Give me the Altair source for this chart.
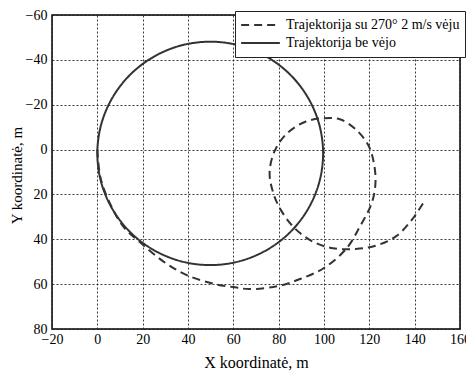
import altair as alt
import pandas as pd

# Solid trajectory (no wind)
solid_x = [0, 1.7, 6.7, 14.6, 24.9, 36.9, 49.8, 62.7, 74.7, 85.0, 92.9, 97.9, 99.6,
           97.9, 92.9, 85.0, 74.7, 62.7, 49.8, 36.9, 24.9, 14.6, 6.7, 1.7]
solid_y = [1.7, 14.6, 26.6, 36.9, 44.8, 49.8, 51.5, 49.8, 44.8, 36.9, 26.6, 14.6, 1.7,
           -11.2, -23.2, -33.5, -41.4, -46.4, -48.1, -46.4, -41.4, -33.5, -23.2, -11.2]

# Dashed trajectory (270°, 2 m/s wind)
dash_x = [0, 1.5, 6.5, 12, 19.6, 30, 40, 52, 60, 67, 80, 90, 100, 110, 116, 121,
          122.7, 122, 119.5, 114, 107, 100, 92, 84, 78.5, 76, 77.5, 81, 87, 95,
          104, 114, 123, 132, 139, 144]
dash_y = [0, 13, 26, 35, 42, 50.5, 56.2, 60, 61.3, 62.2, 60.8, 57.5, 52.8, 44, 34, 24,
          15, 6, -2, -9, -13.5, -14, -12.5, -7.5, 0, 10, 19, 27, 35, 41,
          44, 44.3, 42.8, 38.5, 31, 23.5]

x_ticks = [-20, 0, 20, 40, 60, 80, 100, 120, 140, 160]
y_ticks = [-60, -40, -20, 0, 20, 40, 60, 80]

series_names = ["Trajektorija su 270° 2 m/s vėju", "Trajektorija be vėjo"]

df_dash = pd.DataFrame({"x": dash_x, "y": dash_y, "i": range(len(dash_x)),
                        "s": series_names[0]})
df_solid = pd.DataFrame({"x": solid_x, "y": solid_y, "i": range(len(solid_x)),
                         "s": series_names[1]})

FONT = "Liberation Serif"
LINE = "#333333"
MINUS = "replace(datum.label, '-', '\u2212')"

xenc = alt.X("x:Q", scale=alt.Scale(domain=[-20, 160], nice=False, zero=False),
             axis=alt.Axis(values=x_ticks, title="X koordinatė, m", labelExpr=MINUS,
                           labelFlush=False, labelOverlap=False, labelPadding=3,
                           titlePadding=8, titleFontSize=16))
yenc = alt.Y("y:Q", scale=alt.Scale(domain=[-60, 80], nice=False, zero=False, reverse=True),
             axis=alt.Axis(values=y_ticks, title="Y koordinatė, m", labelExpr=MINUS,
                           labelFlush=False, labelOverlap=False, labelPadding=5,
                           titlePadding=1, titleY=160, titleFontSize=15))
dash_enc = alt.StrokeDash("s:N",
                          scale=alt.Scale(domain=series_names, range=[[8, 5], [1, 0]]),
                          legend=alt.Legend(title=None, orient="none", legendX=183, legendY=-4,
                                            symbolType="stroke", symbolSize=1500,
                                            symbolStrokeWidth=2, symbolStrokeColor=LINE,
                                            labelFont=FONT, labelFontSize=14, labelLimit=400,
                                            labelColor="black", labelOffset=5,
                                            clipHeight=18, rowPadding=0,
                                            padding=5, strokeColor="#222",
                                            fillColor="white"))

dashed = alt.Chart(df_dash).mark_line(color=LINE, strokeWidth=2,
                                      interpolate="catmull-rom").encode(
    x=xenc, y=yenc, order="i:Q", strokeDash=dash_enc)

solid = alt.Chart(df_solid).mark_line(color=LINE, strokeWidth=2,
                                      interpolate="cardinal-closed").encode(
    x=xenc, y=yenc, order="i:Q", strokeDash=dash_enc)

chart = alt.layer(dashed, solid).properties(
    width=408, height=314, autosize="none",
    padding={"left": 44, "top": 7, "right": 6, "bottom": 46},
).configure_view(stroke="black", strokeWidth=1.5).configure_axis(
    grid=True, gridDash=[2, 2], gridColor="#222", gridWidth=1, gridOpacity=0.9,
    ticks=False, domain=False,
    labelFont=FONT, labelFontSize=14, labelColor="black",
    titleFont=FONT, titleFontWeight="normal", titleColor="black",
)

chart.save("out.html", embed_options={"renderer": "svg", "actions": False})
